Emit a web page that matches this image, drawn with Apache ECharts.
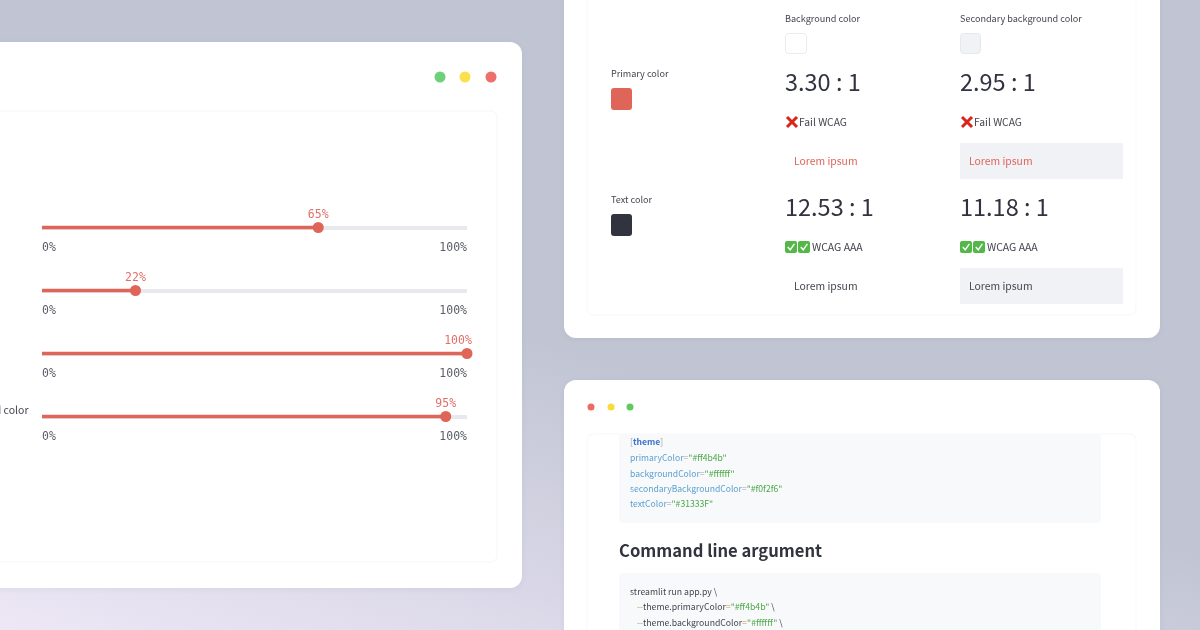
<!DOCTYPE html>
<html>
<head>
<meta charset="UTF-8">
<title>Color contrast</title>
<style>
html,body{margin:0;padding:0;background:#c1c5d3;}
#main{width:1200px;height:630px;}
</style>
<script src="https://cdn.jsdelivr.net/npm/echarts@6/dist/echarts.min.js"></script>
</head>
<body>
<div id="main"></div>
<script>
// slider values and tick labels
var sliderValues = [65, 22, 100, 95];
var sliderMin = 0;
var sliderMax = 100;

// contrast table
var contrastColumns = ['Background color', 'Secondary background color'];
var contrastRows = ['Primary color', 'Text color'];
var primaryRatios = ['3.30 : 1', '2.95 : 1'];
var textRatios = ['12.53 : 1', '11.18 : 1'];
var primaryVerdict = 'Fail WCAG';
var textVerdict = 'WCAG AAA';
var sampleText = 'Lorem ipsum';

// code snippets
var configLines = [
	['primaryColor', '"#ff4b4b"'],
	['backgroundColor', '"#ffffff"'],
	['secondaryBackgroundColor', '"#f0f2f6"'],
	['textColor', '"#31333F"']
];
var cliLines = [
	['--theme.primaryColor', '"#ff4b4b"'],
	['--theme.backgroundColor', '"#ffffff"']
];

var RED = '#df6558', DARK = '#31333f', SOFT = '#44464f', GREY = '#f0f2f6';
var UI = '"Noto Sans CJK SC","Noto Sans",sans-serif';
var MONO = '"DejaVu Sans Mono",monospace';

function txt(x, y, s, size, fill, weight, font, align) {
	return {type: 'text', x: x, y: y, silent: true, z: 10, style: {
		text: s, fontSize: size, fill: fill, fontWeight: weight || 400,
		fontFamily: font || UI, verticalAlign: 'middle', align: align || 'left'
	}};
}
function box(x, y, w, h, r, fill, stroke, extra) {
	var st = {fill: fill, stroke: stroke || null, lineWidth: stroke ? 1 : 0};
	if (extra) for (var k in extra) st[k] = extra[k];
	return {type: 'rect', silent: true, z: 5, shape: {x: x, y: y, width: w, height: h, r: r}, style: st};
}
function dot(x, y, r, fill) {
	return {type: 'circle', silent: true, z: 6, shape: {cx: x, cy: y, r: r}, style: {fill: fill}};
}
function cross(x, y) {
	return [
		{type: 'polyline', silent: true, z: 10, shape: {points: [[x, y], [x + 10, y + 10]]}, style: {stroke: '#d8261c', lineWidth: 3, fill: null}},
		{type: 'polyline', silent: true, z: 10, shape: {points: [[x + 10, y], [x, y + 10]]}, style: {stroke: '#d8261c', lineWidth: 3, fill: null}}
	];
}
function check(x, y) {
	return [
		box(x, y, 12, 12, 2, '#54b848'),
		{type: 'polyline', silent: true, z: 10, shape: {points: [[x + 2.8, y + 6], [x + 5.2, y + 8.8], [x + 9.4, y + 2.8]]}, style: {stroke: '#fff', lineWidth: 1.4, fill: null}}
	];
}

var g = [];
var cardShadow = {shadowBlur: 6, shadowColor: 'rgba(80,85,110,0.08)', shadowOffsetY: 1};

// left window
g.push(box(-30, 42, 552, 546, 12, '#fff', null, cardShadow));
g.push(box(-30, 111, 527, 451, 6, '#fff', '#f6f7f9'));
g.push(dot(440, 77, 5.5, '#6dd17b'), dot(465, 77, 5.5, '#fbe04c'), dot(491, 77, 5.5, '#ee6f6c'));
g.push(txt(28.5, 410, 'd color', 10.5, SOFT, 400, UI, 'right'));

// top-right window
g.push(box(564, -30, 596, 368, 12, '#fff', null, cardShadow));
g.push(box(587, -20, 549, 335, 6, '#fff', '#f6f7f9'));
var colX = [785, 960];
g.push(txt(colX[0], 18.5, contrastColumns[0], 9.1, SOFT), txt(colX[1], 18.5, contrastColumns[1], 9.1, SOFT));
g.push(box(785.5, 33.5, 21, 20, 3, '#fff', '#e9ebef'), box(960.5, 33.5, 20, 20, 3, GREY, '#e6e8ee'));
g.push(txt(611, 74, contrastRows[0], 9.1, SOFT), box(611, 88, 21, 22, 3, RED));
g.push(txt(611, 200, contrastRows[1], 9.1, SOFT), box(611, 214, 21, 22, 3, DARK));
g.push(box(960, 143, 163, 36, 0, GREY), box(960, 268, 163, 36, 0, GREY));
for (var i = 0; i < 2; i++) {
	g.push(txt(colX[i], 82, primaryRatios[i], 23.5, DARK));
	g = g.concat(cross(colX[i] + 2, 117));
	g.push(txt(colX[i] + 14, 122, primaryVerdict, 10.3, SOFT));
	g.push(txt(colX[i] + 9, 161, sampleText, 10.4, RED));
	g.push(txt(colX[i], 207, textRatios[i], 23.5, DARK));
	g = g.concat(check(colX[i], 241), check(colX[i] + 13, 241));
	g.push(txt(colX[i] + 27, 247, textVerdict, 10.5, SOFT));
	g.push(txt(colX[i] + 9, 286, sampleText, 10.4, SOFT));
}

// bottom-right window
g.push(box(564, 380, 596, 280, 12, '#fff', null, cardShadow));
g.push(box(587, 434, 549, 240, 6, '#fff', '#f6f7f9'));
g.push(dot(591, 407, 3.5, '#ee6a63'), dot(611, 407, 3.5, '#f7dc3c'), dot(630, 407, 3.5, '#5ecb62'));
g.push(box(619, 434, 482, 89, 4, '#f8f9fb'), box(619, 573, 482, 80, 4, '#f8f9fb'));
g.push({type: 'text', x: 630, y: 442, silent: true, z: 10, style: {
	text: '{a|[}{b|theme}{a|]}', verticalAlign: 'middle',
	rich: {a: {fontSize: 8.6, fill: '#a0a4ad', fontFamily: UI}, b: {fontSize: 8.6, fill: '#3f72c9', fontWeight: 700, fontFamily: UI}}
}});
configLines.forEach(function (l, i) {
	g.push({type: 'text', x: 630, y: 458 + i * 15.4, silent: true, z: 10, style: {
		text: '{k|' + l[0] + '}{e|=}{v|' + l[1] + '}', verticalAlign: 'middle',
		rich: {k: {fontSize: 8.6, fill: '#5b9fd0', fontFamily: UI}, e: {fontSize: 8.6, fill: '#a0a4ad', fontFamily: UI}, v: {fontSize: 8.6, fill: '#4fa84a', fontFamily: UI}}
	}});
});
g.push(txt(619, 551, 'Command line argument', 16.6, DARK, 700));
g.push(txt(630, 592, 'streamlit run app.py \\', 8.7, SOFT));
cliLines.forEach(function (l, i) {
	g.push({type: 'text', x: 637, y: 607 + i * 15.4, silent: true, z: 10, style: {
		text: '{o|--}{k|' + l[0].slice(2) + '}{e|=}{v|' + l[1] + '}{k| \\}', verticalAlign: 'middle',
		rich: {o: {fontSize: 8.7, fill: '#d98a55', fontFamily: UI}, k: {fontSize: 8.7, fill: SOFT, fontFamily: UI}, e: {fontSize: 8.7, fill: '#d98a55', fontFamily: UI}, v: {fontSize: 8.7, fill: '#4fa84a', fontFamily: UI}}
	}});
});

// one grid per slider
var trackY = [227.5, 290.5, 353.5, 416.5];
var grids = [], xAxes = [], yAxes = [], series = [];
sliderValues.forEach(function (v, i) {
	grids.push({left: 42, width: 425, top: trackY[i], height: 0.01, z: 20});
	xAxes.push({
		gridIndex: i, type: 'value', min: sliderMin, max: sliderMax, interval: sliderMax - sliderMin, z: 20,
		axisLine: {show: true, onZero: false, lineStyle: {color: '#e8e9ef', width: 4, cap: 'butt'}},
		axisTick: {show: false}, splitLine: {show: false},
		axisLabel: {
			show: true, margin: 14.5, color: '#5c5e68', fontSize: 11.5, fontFamily: MONO,
			formatter: '{value}%', alignMinLabel: 'left', alignMaxLabel: 'right'
		}
	});
	yAxes.push({gridIndex: i, type: 'value', min: 0, max: 1, show: false});
	series.push({
		type: 'line', xAxisIndex: i, yAxisIndex: i, silent: true, z: 21,
		data: [[sliderMin, 0], [v, 0]],
		lineStyle: {color: RED, width: 4, cap: 'butt'},
		symbol: 'none'
	});
	series.push({
		type: 'scatter', xAxisIndex: i, yAxisIndex: i, silent: true, z: 22,
		data: [[v, 0]], symbolSize: 11, itemStyle: {color: RED, opacity: 1},
		label: {
			show: true, position: 'top', distance: 1, color: '#e0706a', fontSize: 11.5, fontFamily: MONO,
			offset: [v === sliderMax ? -9 : 0, 0],
			formatter: function (p) { return p.value[0] + '%'; }
		}
	});
});

var chart = echarts.init(document.getElementById('main'), null, {renderer: 'canvas'});
chart.setOption({
	animation: false,
	backgroundColor: {
		type: 'linear', global: true, x: 0, y: 640, x2: 140, y2: 210,
		colorStops: [{offset: 0, color: '#eee8f6'}, {offset: 0.39, color: '#dddaea'}, {offset: 1, color: '#c1c5d3'}]
	},
	grid: grids, xAxis: xAxes, yAxis: yAxes, series: series,
	graphic: {elements: g}
});
</script>
</body>
</html>
